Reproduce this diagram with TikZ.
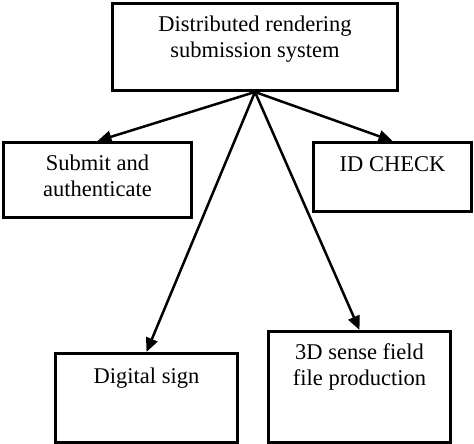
\documentclass[tikz,border=0pt]{standalone}
\usepackage{fontspec}
\setmainfont{Liberation Serif}
\usetikzlibrary{arrows.meta}
\usetikzlibrary{positioning}
\tikzset{>={Triangle[length=14pt,width=12pt]}}
\tikzset{
	box/.style={draw, line width=3pt, inner sep=0pt},
	txt/.style={align=center, inner sep=0pt, font=\fontsize{22.5}{26}\selectfont},
	link/.style={->, line width=2.5pt}
}

\begin{document}
\begin{tikzpicture}[x=1pt,y=1pt]
		\useasboundingbox (0,0) rectangle (474,-444);
		% boxes
		\node [box, minimum width=285pt, minimum height=87pt] (sys) at (255,-47) {};
		\node [box, minimum width=188pt, minimum height=75pt] (submit) at (97.5,-180) {};
		\node [box, minimum width=158pt, minimum height=69pt] (idcheck) at (392.5,-177) {};
		\node [box, minimum width=182pt, minimum height=89pt] (dsign) at (146.5,-398) {};
		\node [box, minimum width=182pt, minimum height=111pt] (field) at (359.5,-387) {};
		% texts
		\node [txt, below=14pt of sys.north] (sys-t) {Distributed rendering\\submission system};
		\node [txt, below=14pt of submit.north] (submit-t) {Submit and\\authenticate};
		\node [txt, below=15.5pt of idcheck.north] (idcheck-t) {ID CHECK};
		\node [txt, below=16pt of dsign.north] (dsign-t) {Digital sign};
		\node [txt, below=13pt of field.north] (field-t) {3D sense field\\file production};
		% arrows
		\draw [link] (sys.south) -- (submit.north);
		\draw [link] (sys.south) -- (idcheck.north);
		\draw [link] (sys.south) -- (dsign.north);
		\draw [link] (sys.south) -- (field.north);
		\end{tikzpicture}
\end{document}
